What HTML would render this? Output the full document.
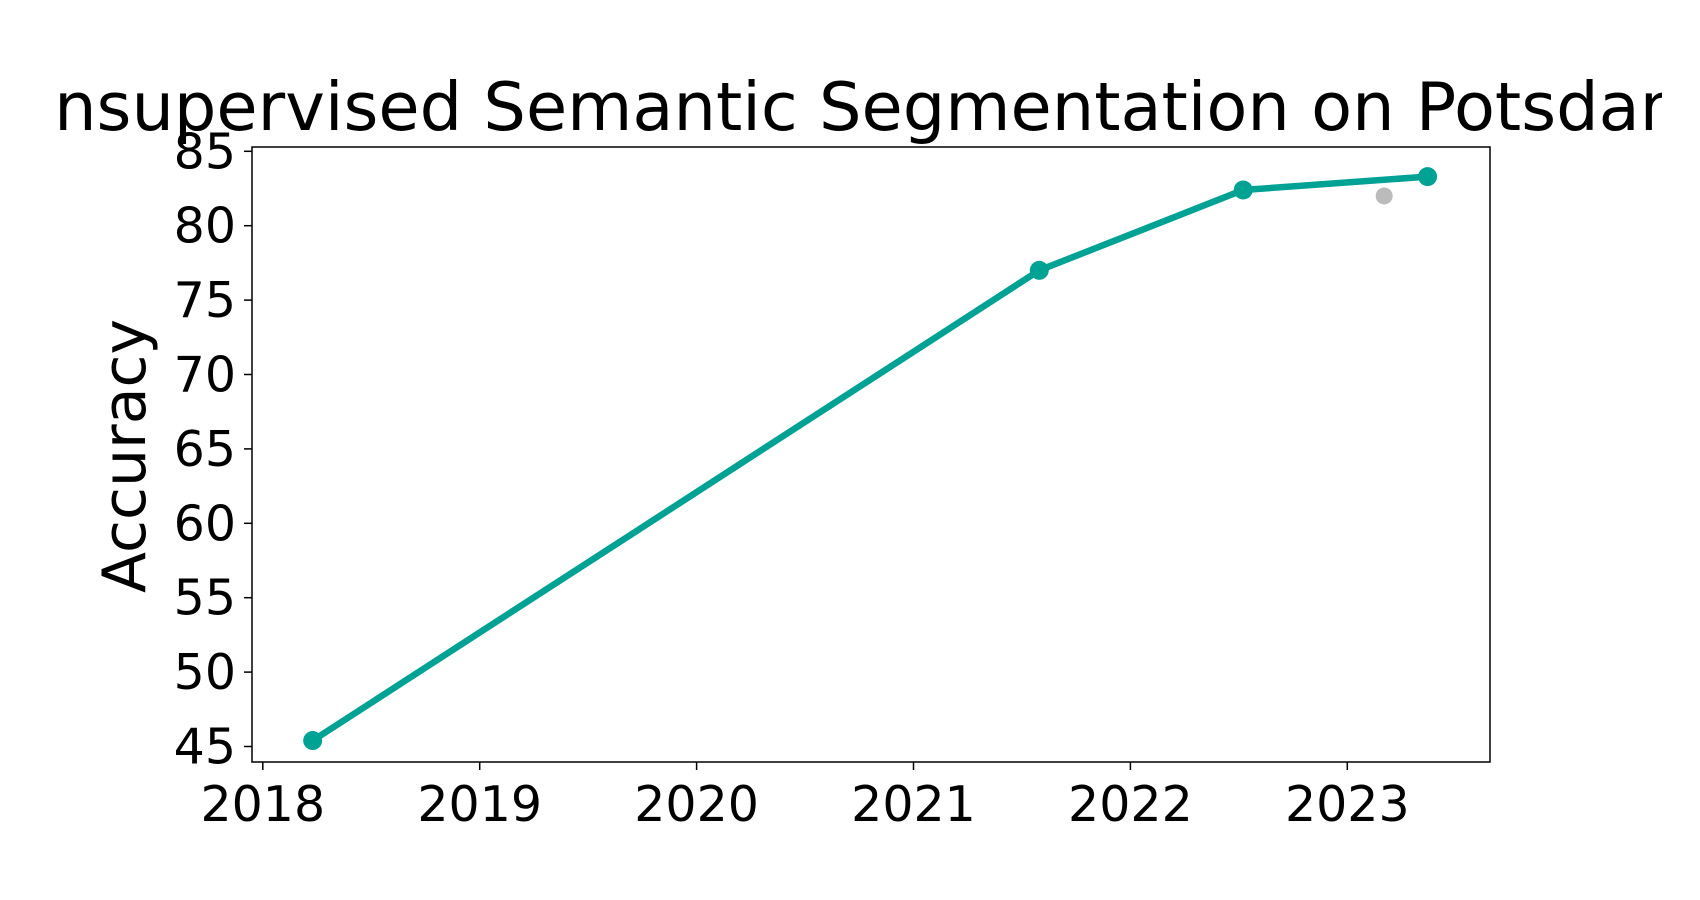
<!DOCTYPE html>
<html><head><meta charset="utf-8"><style>body{margin:0;background:#fff}svg{display:block}text{font-family:"DejaVu Sans","Liberation Sans",sans-serif}</style></head>
<body>
<svg id="chart" width="1700" height="900" xmlns="http://www.w3.org/2000/svg">
<defs><clipPath id="tc"><rect x="49" y="0" width="1613" height="200"/></clipPath></defs>
<text x="855" y="130" font-size="67" text-anchor="middle" clip-path="url(#tc)">Unsupervised Semantic Segmentation on Potsdam</text>
<text transform="translate(145,456) rotate(-90)" font-size="60" text-anchor="middle">Accuracy</text>
<rect x="252" y="147" width="1238" height="615" fill="none" stroke="#000" stroke-width="1.5"/>
<g id="axes"></g><g id="marks"></g>
</svg>
<script>
const years=[2018.23,2021.58,2022.52,2023.37];
const acc=[45.4,77.0,82.4,83.3];
const otherYears=[2023.17];
const otherAcc=[82.0];
const xTicks=[2018,2019,2020,2021,2022,2023];
const yTicks=[45,50,55,60,65,70,75,80,85];
const NS="http://www.w3.org/2000/svg";
function x(v){return 262.8+(v-2018)*216.9;}
function y(v){return 746.5-(v-45)*14.88;}
function mk(t,a,p){const e=document.createElementNS(NS,t);for(const k in a)e.setAttribute(k,a[k]);p.appendChild(e);return e;}
const ax=document.getElementById('axes'),mg=document.getElementById('marks');
xTicks.forEach(t=>{
 const l=mk('line',{x1:x(t),x2:x(t),y1:762,y2:770,stroke:'#000','stroke-width':1.5},ax);
 
 
 const tx=mk('text',{x:x(t),y:821,'font-size':49,'text-anchor':'middle'},ax);tx.textContent=t;
 
 
});
yTicks.forEach(t=>{
 const l=mk('line',{x1:244,x2:252,y1:y(t),y2:y(t),stroke:'#000','stroke-width':1.5},ax);
 
 
 const tx=mk('text',{x:236,y:y(t)+17,'font-size':49,'text-anchor':'end'},ax);tx.textContent=t;
 
 
});
otherYears.forEach((v,i)=>{
 const c=mk('circle',{cx:x(v),cy:y(otherAcc[i]),r:8.5,fill:'#bbbbbb'},mg);
 
 
});
const pl=mk('polyline',{points:years.map((v,i)=>x(v)+','+y(acc[i])).join(' '),fill:'none',stroke:'#00a294','stroke-width':6.5},mg);


years.forEach((v,i)=>{
 const c=mk('circle',{cx:x(v),cy:y(acc[i]),r:9.5,fill:'#00a294'},mg);
 
 
});
</script>
</body></html>
